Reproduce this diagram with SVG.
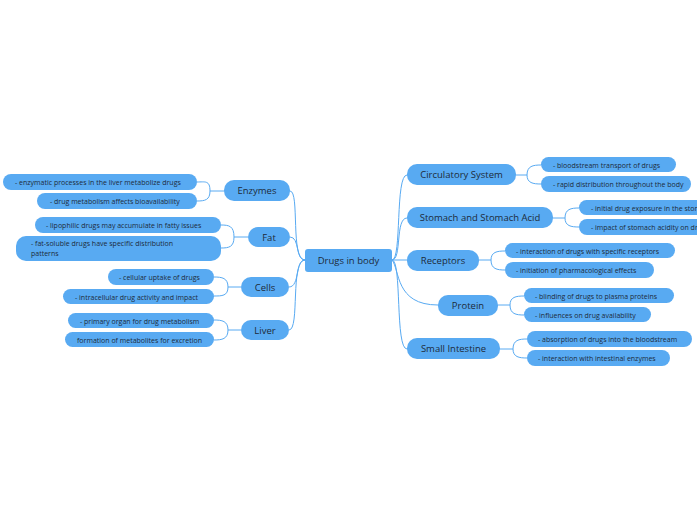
<svg xmlns="http://www.w3.org/2000/svg" width="697" height="520" viewBox="0 0 697 520">
<style>
.n{fill:#58aaf2}
.t{font-family:"Open Sans","Noto Sans",sans-serif;fill:#1d2b3a;font-size:9.5px;text-anchor:middle}
.l{font-family:"Open Sans","Noto Sans",sans-serif;fill:#1d2b3a;font-size:7px}
.c{fill:none;stroke:#58aaf2;stroke-width:1}
</style>
<rect width="697" height="520" fill="#fff"/>
<g id="connectors">
<path class="c" d="M305 260 C290 260 300 191 290 191 M305 260 C295 260 300 237 290 237 M305 260 C295 260 300 287 289 287 M305 260 C290 260 300 330 289 330"/>
<path class="c" d="M392 260 C402 260 395 175 407 175 M392 260 C402 260 395 218 407 218 M392 260 L407 260 M392 260 C400 270 395 305 438 305 M392 260 C402 260 395 349 407 349"/>
<path class="c" d="M224 191 L210 191 M210 191 C210 180 205 182 197 182 M210 191 C210 200 205 201 197 201"/>
<path class="c" d="M248 237 L234 237 M234 237 C234 226 229 225 221 225 M234 237 C234 247 229 248 221 248"/>
<path class="c" d="M241 287 L228 287 M228 287 C228 278 222 277 214 277 M228 287 C228 296 222 296 214 296"/>
<path class="c" d="M241 330 L228 330 M228 330 C228 321 222 320 214 320 M228 330 C228 339 222 340 214 340"/>
<path class="c" d="M516 175 L527 175 M527 175 C527 166 533 165 541 165 M527 175 C527 183 533 184 541 184"/>
<path class="c" d="M553 218 L565 218 M565 218 C565 209 571 208 579 208 M565 218 C565 226 571 227 579 227"/>
<path class="c" d="M479 260 L491 260 M491 260 C491 252 497 251 505 251 M491 260 C491 269 497 270 505 270"/>
<path class="c" d="M498 305 L510 305 M510 305 C510 297 516 296 524 296 M510 305 C510 314 516 315 524 315"/>
<path class="c" d="M500 349 L513 349 M513 349 C513 340 519 339 527 339 M513 349 C513 357 519 358 527 358"/>
</g>
<g id="center"><rect class="n" x="305" y="249" width="87" height="23" rx="3"/><text class="t" x="348.5" y="264">Drugs in body</text></g>
<g id="enzymes"><rect class="n" x="224" y="180" width="66" height="21" rx="10"/><text class="t" x="257" y="194">Enzymes</text>
<rect class="n" x="3" y="174" width="194" height="16" rx="8"/><text class="l" x="15" y="185">- enzymatic processes in the liver metabolize drugs</text>
<rect class="n" x="37" y="193" width="160" height="16" rx="8"/><text class="l" x="50" y="204">- drug metabolism affects bioavailability</text></g>
<g id="fat"><rect class="n" x="248" y="227" width="42" height="20" rx="10"/><text class="t" x="269" y="240.5">Fat</text>
<rect class="n" x="35" y="217" width="186" height="16" rx="8"/><text class="l" x="46" y="228">- lipophilic drugs may accumulate in fatty issues</text>
<rect class="n" x="16" y="236" width="205" height="25" rx="10"/><text class="l" x="31" y="246">- fat-soluble drugs have specific distribution</text><text class="l" x="31" y="256">patterns</text></g>
<g id="cells"><rect class="n" x="241" y="277" width="48" height="20" rx="10"/><text class="t" x="265" y="290.5">Cells</text>
<rect class="n" x="108" y="269" width="106" height="16" rx="8"/><text class="l" x="119" y="280">- cellular uptake of drugs</text>
<rect class="n" x="63" y="289" width="151" height="15" rx="7.5"/><text class="l" x="75" y="299.5">- intracellular drug activity and impact</text></g>
<g id="liver"><rect class="n" x="241" y="320" width="48" height="20" rx="10"/><text class="t" x="265" y="333.5">Liver</text>
<rect class="n" x="68" y="313" width="146" height="15" rx="7.5"/><text class="l" x="80" y="323.5">- primary organ for drug metabolism</text>
<rect class="n" x="65" y="332" width="149" height="15" rx="7.5"/><text class="l" x="77" y="342.5">formation of metabolites for excretion</text></g>
<g id="circulatory"><rect class="n" x="407" y="164" width="109" height="21" rx="10"/><text class="t" x="461.5" y="178">Circulatory System</text>
<rect class="n" x="541" y="157" width="135" height="15" rx="7.5"/><text class="l" x="553" y="167.5">-  bloodstream transport of drugs</text>
<rect class="n" x="541" y="176" width="150" height="16" rx="8"/><text class="l" x="553" y="187">- rapid distribution throughout the body</text></g>
<g id="stomach"><rect class="n" x="407" y="207" width="146" height="21" rx="10"/><text class="t" x="480" y="221">Stomach and Stomach Acid</text>
<rect class="n" x="579" y="200" width="130" height="15" rx="7.5"/><text class="l" x="591" y="210.5">- initial drug exposure in the stomach</text>
<rect class="n" x="579" y="219" width="130" height="16" rx="8"/><text class="l" x="591" y="230">- impact of stomach acidity on drugs</text></g>
<g id="receptors"><rect class="n" x="407" y="250" width="72" height="21" rx="10"/><text class="t" x="443" y="264">Receptors</text>
<rect class="n" x="505" y="243" width="170" height="15" rx="7.5"/><text class="l" x="516" y="253.5">- interaction of drugs with specific receptors</text>
<rect class="n" x="505" y="262" width="149" height="16" rx="8"/><text class="l" x="516" y="273">- initiation of pharmacological effects</text></g>
<g id="protein"><rect class="n" x="438" y="295" width="60" height="21" rx="10"/><text class="t" x="468" y="309">Protein</text>
<rect class="n" x="524" y="288" width="150" height="15" rx="7.5"/><text class="l" x="535" y="298.5">- blinding of drugs to plasma proteins</text>
<rect class="n" x="524" y="307" width="127" height="15" rx="7.5"/><text class="l" x="535" y="317.5">- influences on drug availability</text></g>
<g id="intestine"><rect class="n" x="407" y="338" width="93" height="21" rx="10"/><text class="t" x="453.5" y="352">Small Intestine</text>
<rect class="n" x="527" y="331" width="165" height="16" rx="8"/><text class="l" x="538" y="342">- absorption of drugs into the bloodstream</text>
<rect class="n" x="527" y="350" width="143" height="16" rx="8"/><text class="l" x="538" y="361">- interaction with intestinal enzymes</text></g>
</svg>
